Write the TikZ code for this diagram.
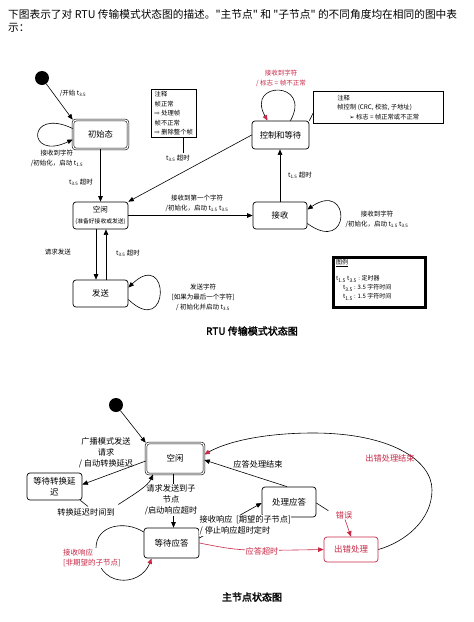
\documentclass[tikz,border=0pt]{standalone}
\usepackage{fontspec}
\setmainfont{Noto Sans CJK SC}[AutoFakeBold=2, Ligatures=TeXOff]
\newfontfamily\symf{DejaVu Sans}
\usetikzlibrary{arrows.meta}
\definecolor{mred}{RGB}{200,40,70}
\newcommand\fsA{\fontsize{6.5}{10}\selectfont}
\newcommand\fsB{\fontsize{8.2}{11}\selectfont}
\newcommand\fsBox{\fontsize{8.3}{10}\selectfont}
\newcommand\fsN{\fontsize{6.3}{9.5}\selectfont}
\tikzset{
  box/.style={draw, rounded corners=3pt, line width=0.7pt, align=center, inner sep=1pt, font=\fsBox},
  dbox/.style={box, double, double distance=1.2pt, line width=0.6pt},
  arr/.style={-{Triangle[length=5.5pt,width=4.5pt]}, line width=0.6pt},
  rarr/.style={-{Triangle[length=5.5pt,width=4.5pt,color=mred]}, line width=0.6pt},
  la/.style={font=\fsA, align=center, inner sep=0.5pt},
  lb/.style={font=\fsB, align=center, inner sep=0.5pt},
  note/.style={draw, line width=0.6pt, anchor=north west, align=left, inner sep=1.5pt, font=\fsN},
  dot/.style={circle, fill, minimum size=14pt, inner sep=0pt},
}
\begin{document}
\begin{tikzpicture}[x=1pt,y=-1pt]
\fill[white] (0,0) rectangle (474,622);
\useasboundingbox (0,0) rectangle (474,622);

% header
\node[anchor=north west, align=left, font=\fontsize{10.7}{13}\selectfont, inner sep=0pt] (hdr) at (8,9)
  {下图表示了对 RTU 传输模式状态图的描述。"主节点" 和 "子节点" 的不同角度均在相同的图中表\\示：};

% ===== diagram 1 =====
\node[dot] (s1) at (42,78) {};
\node[dbox, minimum width=55pt, minimum height=29pt] (init) at (100.5,134.5) {初始态};
\node[box, minimum width=55pt, minimum height=27pt] (idle1) at (100.5,215.5)
  {{\fontsize{7.5}{9}\selectfont 空闲}\\[1pt]{\fontsize{5.8}{7}\selectfont (准备好接收或发送)}};
\node[box, minimum width=55pt, minimum height=27pt] (send) at (100.5,293.5) {发送};
\node[box, minimum width=57pt, minimum height=28pt] (ctrl) at (280.5,135) {控制和等待};
\node[box, minimum width=54pt, minimum height=27pt] (recv) at (280,215.5) {接收};

\draw[arr] (s1) -- (init.north west);
\node[la] (l1) at (73,93) {/开始 t\textsubscript{3.5}};

\draw[arr] (init) -- (idle1);
\node[la] (l2) at (81,182) {t\textsubscript{3.5} 超时};

\draw[arr] ([yshift=6pt]init.west) .. controls +(-46,-22) and +(-46,22) .. ([yshift=-5pt]init.west);
\node[la] (l3) at (57,158.5) {接收到字符\\/初始化，启动 t\textsubscript{1.5}};

\draw[arr] (ctrl.west) -- (idle1.north east);

\draw[arr] (idle1.east) -- (recv.west);
\node[la] (l4) at (197,203) {接收到第一个字符\\/初始化，启动 t\textsubscript{1.5} t\textsubscript{3.5}};

\draw[arr] (recv.north) -- (recv.north |- ctrl.south);
\node[la] (l5) at (300,175) {t\textsubscript{1.5} 超时};

\draw[arr] ([xshift=-4.5pt]idle1.south) -- ([xshift=-4.5pt]send.north);
\draw[arr] ([xshift=5.5pt]send.north) -- ([xshift=5.5pt]idle1.south);
\node[la] (l6) at (58,252) {请求发送};
\node[la] (l7) at (128,253) {t\textsubscript{3.5} 超时};

\draw[rarr] ([xshift=10pt]ctrl.north) .. controls +(22,-40) and +(-22,-40) .. ([xshift=-13pt]ctrl.north);
\node[la, text=mred] (l8) at (281,78) {接收到字符\\/ 标志 = 帧不正常};

\draw[arr] ([yshift=-8pt]recv.east) .. controls +(44,32) and +(44,-30) .. ([yshift=6pt]recv.east);
\node[la] (l9) at (377,219) {接收到字符\\/初始化，启动 t\textsubscript{1.5} t\textsubscript{3.5}};

\draw[arr] ([yshift=-6pt]send.east) .. controls +(42,40) and +(42,-40) .. ([yshift=6pt]send.east);
\node[la] (l10) at (203,297) {发送字符\\{[}如果为最后一个字符{]}\\/ 初始化并启动 t\textsubscript{3.5}};

% notes
\node[note, minimum width=45pt, minimum height=48pt] (n1) at (151,89)
  {注释\\帧正常\\{\symf ⇨} 处理帧\\帧不正常\\{\symf ⇨} 删除整个帧};
\draw[line width=0.6pt] ([xshift=9pt]n1.south) -- ++(0,15);
\node[la] (l11) at (178,158) {t\textsubscript{3.5} 超时};

\node[note, minimum width=130pt, minimum height=32pt] (n2) at (313,91)
  {注释\\帧控制 (CRC, 校验, 子地址)\\\hspace*{12pt}{\symf ➢} 标志 = 帧正常或不正常};
\draw[line width=0.6pt] ([yshift=-6pt]n2.west) -- (ctrl.north east);

% legend
\node[draw, line width=1.6pt, anchor=north west, minimum width=93pt, minimum height=51pt, inner sep=0pt] (leg) at (332,256) {};
\draw[line width=0.5pt] ([shift={(2.5pt,-2.5pt)}]leg.north west) rectangle ([shift={(-2.5pt,2.5pt)}]leg.south east);
\node[font=\fontsize{6}{7}\selectfont, anchor=west, inner sep=0pt] (lg1) at (336,263) {\underline{图例}};
\node[font=\fontsize{6}{7}\selectfont, anchor=west, inner sep=0pt] (lg2) at (336,279) {t\textsubscript{1.5} t\textsubscript{3.5} : 定时器};
\node[font=\fontsize{6}{7}\selectfont, anchor=west, inner sep=0pt] (lg3) at (343,288) {t\textsubscript{3.5} : 3.5 字符时间};
\node[font=\fontsize{6}{7}\selectfont, anchor=west, inner sep=0pt] (lg4) at (343,297) {t\textsubscript{1.5} : 1.5 字符时间};

\node[font=\bfseries\fontsize{10}{12}\selectfont] (cap1) at (252,331) {RTU 传输模式状态图};

% ===== diagram 2 =====
\node[dot] (s2) at (116,405) {};
\node[dbox, minimum width=58pt, minimum height=31pt, font=\fontsize{8.5}{10}\selectfont] (idle2) at (175,458.5) {空闲};
\node[box, minimum width=55pt, minimum height=27pt, font=\fontsize{8.5}{11}\selectfont] (wconv) at (54.5,486.5) {等待转换延\\迟};
\node[box, minimum width=55pt, minimum height=30pt, font=\fontsize{8.5}{10}\selectfont] (wresp) at (171.5,543) {等待应答};
\node[box, minimum width=54pt, minimum height=30pt, font=\fontsize{8.5}{10}\selectfont] (proc) at (289,502) {处理应答};
\node[box, draw=mred, text=mred, minimum width=54pt, minimum height=25pt, font=\fontsize{8.5}{10}\selectfont] (err) at (351,549.5) {出错处理};
\coordinate (vx) at (173.5,0);

\draw[arr] (s2) -- (idle2.north west);

\draw[arr] ([yshift=-2.5pt]idle2.west) -- ([yshift=2pt]wconv.east);
\node[lb] (m1) at (106,453) {广播模式发送\\请求\\/ 自动转换延迟};

\node[lb] (m2) at (86,512) {转换延迟时间到};
\draw[line width=0.6pt] ([xshift=-2pt]wconv.south east) -- ([shift={(2pt,1pt)}]m2.north);
\draw[arr] ([shift={(3pt,3pt)}]m2.north east) .. controls +(12,-8) and +(-5,12) .. ([xshift=-22pt]idle2.south);

\node[lb] (m3) at (171,500) {请求发送到子\\节点\\/启动响应超时};
\draw[line width=0.6pt] (idle2.south -| vx) -- (m3.north -| vx);
\draw[arr] (m3.south -| vx) -- (wresp.north -| vx);

\draw[rarr] ([yshift=11pt]wresp.west) .. controls (125,520) and (96,525) .. (96,548)
  .. controls (96,588) and (140,588) .. ([xshift=8pt]wresp.south west);
\node[font=\fontsize{7.5}{10.5}\selectfont, text=mred, fill=white, align=left, anchor=west, inner sep=1pt] (m4) at (62,558)
  {接收响应\\{[}非期望的子节点{]}};

\draw[arr] ([yshift=5pt]wresp.east) -- ([yshift=-1pt]proc.west);
\node[lb, fill=white, align=left, anchor=north west, inner sep=0.5pt] (m5) at (199,515)
  {接收响应\ \ {[}期望的子节点{]}\\/ 停止响应超时定时};

\draw[arr] ([xshift=-2pt]proc.north) -- ([yshift=-1.5pt]idle2.east);
\node[lb] (m6) at (258,464) {应答处理结束};

\node[lb, text=mred] (m7) at (344,515) {错误};
\draw[line width=0.6pt, shorten >=8pt] ([yshift=-1pt]proc.east) -- (m7.west);
\draw[rarr, draw=mred] ([xshift=1pt]m7.south) -- (err.north);

\draw[rarr, draw=mred] (wresp.east) .. controls (240,551) .. (err.west);
\node[lb, text=mred, fill=white] (m8) at (262,551) {应答超时};

\draw[rarr] (err.east) .. controls (405,542) and (432,520) .. (432,490)
  .. controls (432,460) and (390,433) .. (313,433)
  .. controls (270,433) and (230,440) .. ([yshift=4pt]idle2.east);
\node[lb, text=mred] (m9) at (390,458) {出错处理结束};

\node[font=\bfseries\fontsize{10}{12}\selectfont] (cap2) at (252,597) {主节点状态图};
\end{tikzpicture}
\end{document}
